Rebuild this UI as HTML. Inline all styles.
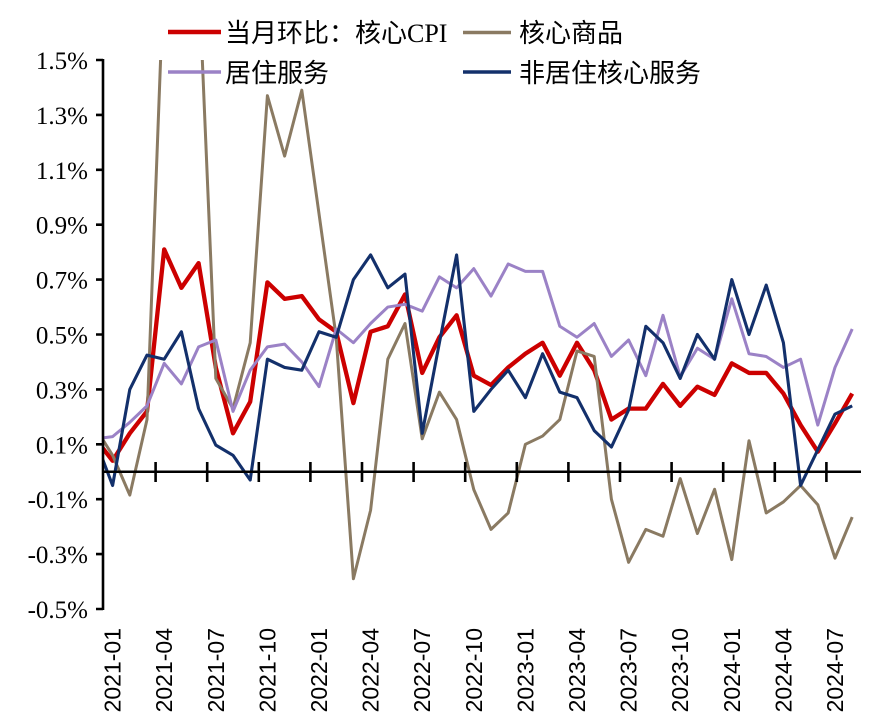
<!DOCTYPE html>
<html><head><meta charset="utf-8"><style>
html,body{margin:0;padding:0;background:#fff;}
svg{display:block;}
.yl{font-family:"Liberation Serif","Noto Serif CJK SC",serif;font-size:25px;fill:#000;}
.xl{font-family:"Liberation Sans",sans-serif;font-size:23px;fill:#000;}
.lg{font-family:"Liberation Serif","Noto Sans CJK SC",sans-serif;font-size:26px;fill:#000;}
</style></head><body>
<svg width="870" height="720" viewBox="0 0 870 720" xmlns="http://www.w3.org/2000/svg">
<defs><clipPath id="c"><rect x="103" y="60" width="758" height="549"/></clipPath></defs>
<rect width="870" height="720" fill="#fff"/>
<g clip-path="url(#c)">
<g transform="matrix(17.2 0 0 -274.5 112.6 471.75)" fill="none" stroke-linejoin="round">
<polyline vector-effect="non-scaling-stroke" stroke="#CC0000" stroke-width="4.3" points="-1,0.12 0,0.04 1,0.14 2,0.22 3,0.81 4,0.67 5,0.76 6,0.38 7,0.14 8,0.255 9,0.69 10,0.63 11,0.64 12,0.555 13,0.51 14,0.25 15,0.51 16,0.53 17,0.646 18,0.36 19,0.49 20,0.57 21,0.35 22,0.316 23,0.38 24,0.43 25,0.47 26,0.35 27,0.47 28,0.37 29,0.19 30,0.23 31,0.23 32,0.32 33,0.24 34,0.31 35,0.28 36,0.395 37,0.36 38,0.36 39,0.285 40,0.17 41,0.073 42,0.176 43,0.285"/>
<polyline vector-effect="non-scaling-stroke" stroke="#8A7A62" stroke-width="3" points="-1,0.16 0,0.06 1,-0.085 2,0.19 3,1.85 4,1.6 5,1.82 6,0.34 7,0.23 8,0.47 9,1.37 10,1.15 11,1.39 12,0.94 13,0.49 14,-0.39 15,-0.14 16,0.41 17,0.54 18,0.12 19,0.29 20,0.19 21,-0.065 22,-0.21 23,-0.15 24,0.10 25,0.13 26,0.19 27,0.44 28,0.42 29,-0.10 30,-0.33 31,-0.21 32,-0.235 33,-0.025 34,-0.225 35,-0.064 36,-0.32 37,0.113 38,-0.15 39,-0.11 40,-0.05 41,-0.12 42,-0.315 43,-0.165"/>
<polyline vector-effect="non-scaling-stroke" stroke="#9B82C6" stroke-width="3" points="-1,0.12 0,0.128 1,0.18 2,0.24 3,0.395 4,0.32 5,0.455 6,0.48 7,0.22 8,0.37 9,0.455 10,0.465 11,0.40 12,0.31 13,0.52 14,0.47 15,0.54 16,0.60 17,0.61 18,0.585 19,0.71 20,0.67 21,0.74 22,0.64 23,0.757 24,0.73 25,0.73 26,0.53 27,0.49 28,0.54 29,0.42 30,0.48 31,0.35 32,0.57 33,0.346 34,0.45 35,0.41 36,0.63 37,0.43 38,0.42 39,0.38 40,0.41 41,0.17 42,0.38 43,0.52"/>
<polyline vector-effect="non-scaling-stroke" stroke="#13306B" stroke-width="3.1" points="-1,0.115 0,-0.05 1,0.30 2,0.425 3,0.41 4,0.51 5,0.23 6,0.097 7,0.06 8,-0.03 9,0.41 10,0.38 11,0.37 12,0.51 13,0.49 14,0.70 15,0.79 16,0.67 17,0.72 18,0.14 19,0.47 20,0.79 21,0.22 22,0.30 23,0.37 24,0.27 25,0.43 26,0.29 27,0.27 28,0.15 29,0.09 30,0.225 31,0.53 32,0.47 33,0.34 34,0.50 35,0.41 36,0.70 37,0.50 38,0.68 39,0.47 40,-0.05 41,0.08 42,0.21 43,0.24"/>
</g>
</g>
<!-- axes -->
<g stroke="#000" stroke-width="2.6" fill="none">
<line x1="103" y1="59" x2="103" y2="610"/>
<line x1="102" y1="471.75" x2="861" y2="471.75"/>
<path d="M96 60H103M96 114.9H103M96 169.8H103M96 224.7H103M96 279.6H103M96 334.5H103M96 389.4H103M96 444.3H103M96 499.2H103M96 554.1H103M96 609H103"/>
<path d="M155.6 462V482M207.2 462V482M258.8 462V482M310.4 462V482M362 462V482M413.6 462V482M465.2 462V482M516.8 462V482M568.4 462V482M620 462V482M671.6 462V482M723.2 462V482M774.8 462V482M826.4 462V482"/>
</g>
<g class="yl" text-anchor="end">
<text x="88" y="69">1.5%</text>
<text x="88" y="123.9">1.3%</text>
<text x="88" y="178.8">1.1%</text>
<text x="88" y="233.7">0.9%</text>
<text x="88" y="288.6">0.7%</text>
<text x="88" y="343.5">0.5%</text>
<text x="88" y="398.4">0.3%</text>
<text x="88" y="453.3">0.1%</text>
<text x="88" y="508.2">-0.1%</text>
<text x="88" y="563.1">-0.3%</text>
<text x="88" y="618">-0.5%</text>
</g>
<g class="xl" text-anchor="end">
<text transform="translate(120.6,628) rotate(-90)">2021-01</text>
<text transform="translate(172.2,628) rotate(-90)">2021-04</text>
<text transform="translate(223.8,628) rotate(-90)">2021-07</text>
<text transform="translate(275.4,628) rotate(-90)">2021-10</text>
<text transform="translate(327,628) rotate(-90)">2022-01</text>
<text transform="translate(378.6,628) rotate(-90)">2022-04</text>
<text transform="translate(430.2,628) rotate(-90)">2022-07</text>
<text transform="translate(481.8,628) rotate(-90)">2022-10</text>
<text transform="translate(533.4,628) rotate(-90)">2023-01</text>
<text transform="translate(585,628) rotate(-90)">2023-04</text>
<text transform="translate(636.6,628) rotate(-90)">2023-07</text>
<text transform="translate(688.2,628) rotate(-90)">2023-10</text>
<text transform="translate(739.8,628) rotate(-90)">2024-01</text>
<text transform="translate(791.4,628) rotate(-90)">2024-04</text>
<text transform="translate(843,628) rotate(-90)">2024-07</text>
</g>
<!-- legend -->
<g>
<line x1="168" y1="32" x2="221" y2="32" stroke="#CC0000" stroke-width="4.5"/>
<line x1="463" y1="32.5" x2="511" y2="32.5" stroke="#8A7A62" stroke-width="3.5"/>
<line x1="168" y1="72" x2="221" y2="72" stroke="#9B82C6" stroke-width="3.5"/>
<line x1="463" y1="72" x2="511" y2="72" stroke="#13306B" stroke-width="3.5"/>
</g>
<g class="lg">
<text x="225" y="42">当月环比：核心CPI</text>
<text x="519" y="42">核心商品</text>
<text x="225" y="82">居住服务</text>
<text x="519" y="82">非居住核心服务</text>
</g>
</svg>
</body></html>
